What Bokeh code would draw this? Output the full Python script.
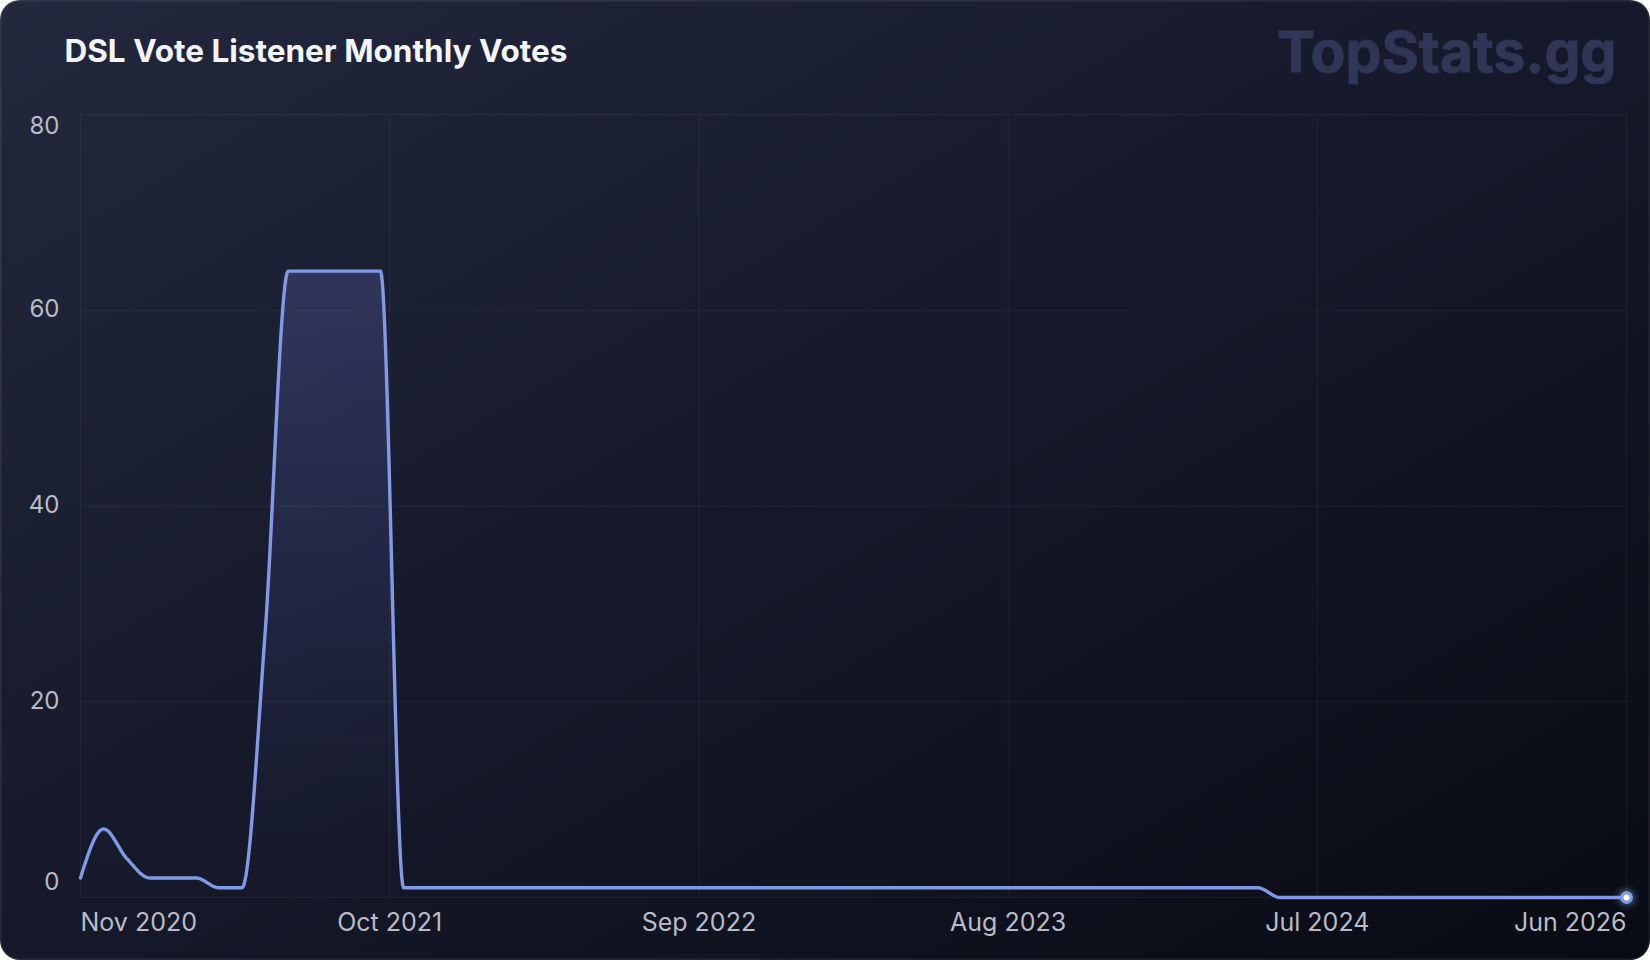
import numpy as np
from bokeh.plotting import figure
from bokeh.models import Range1d, Label
from bokeh.embed import file_html
from bokeh.resources import INLINE

# ---------------- data ----------------
MONTH_NAMES = ["Jan", "Feb", "Mar", "Apr", "May", "Jun", "Jul", "Aug", "Sep", "Oct", "Nov", "Dec"]
months = [f"{MONTH_NAMES[(10 + i) % 12]} {2020 + (10 + i) // 12}" for i in range(68)]  # Nov 2020 .. Jun 2026

votes = [2, 7, 4, 2, 2, 2, 1, 1, 27, 64,
         64, 64, 64, 64, 1, 1, 1, 1, 1, 1,
         1, 1, 1, 1, 1, 1, 1, 1, 1, 1,
         1, 1, 1, 1, 1, 1, 1, 1, 1, 1,
         1, 1, 1, 1, 1, 1, 1, 1, 1, 1,
         1, 1, 0, 0, 0, 0, 0, 0, 0, 0,
         0, 0, 0, 0, 0, 0, 0, 0]

x_tick_pos = [0, 13.4, 26.8, 40.2, 53.6, 67]
x_tick_labels = ["Nov 2020", "Oct 2021", "Sep 2022", "Aug 2023", "Jul 2024", "Jun 2026"]
y_ticks = [0, 20, 40, 60, 80]
y_tick_labels = ["0", "20", "40", "60", "80"]

TITLE = "DSL Vote Listener Monthly Votes"
WATERMARK = "TopStats.gg"

# ---------------- style / layout ----------------
LINE = "#8299e6"
TICK_COLOR = "#b9bcc8"
FONT = "Inter"

W, H = 1650, 960
X0_PX, X1_PX = 80, 1626      # pixel positions of first / last category
Y0_PX, Y80_PX = 897, 114     # pixel positions of value 0 / value 80 (from top)

n = len(votes)
idx = np.arange(n, dtype=float)
px_per_x = (X1_PX - X0_PX) / (n - 1)
px_per_y = (Y0_PX - Y80_PX) / 80.0
x_start = -X0_PX / px_per_x
x_end = (W - X0_PX) / px_per_x
y_start = -(H - Y0_PX) / px_per_y
y_end = Y0_PX / px_per_y


def monotone_curve(xv, yv, steps=24):
    """Monotone cubic (d3 monotoneX style) rendering of the line through the data points."""
    x = np.asarray(xv, float)
    y = np.asarray(yv, float)
    m_n = len(x)
    h = np.diff(x)
    s = np.diff(y) / h
    m = np.zeros(m_n)
    for i in range(1, m_n - 1):
        s0, s1 = s[i - 1], s[i]
        p = (s0 * h[i] + s1 * h[i - 1]) / (h[i - 1] + h[i])
        m[i] = (np.sign(s0) + np.sign(s1)) * min(abs(s0), abs(s1), 0.5 * abs(p))
    m[0] = (3 * s[0] - m[1]) / 2
    m[-1] = (3 * s[-1] - m[-2]) / 2
    t = np.linspace(0, 1, steps, endpoint=False)
    h00 = 2 * t**3 - 3 * t**2 + 1
    h10 = t**3 - 2 * t**2 + t
    h01 = -2 * t**3 + 3 * t**2
    h11 = t**3 - t**2
    xs, ys = [], []
    for i in range(m_n - 1):
        xs.append(x[i] + t * h[i])
        ys.append(h00 * y[i] + h10 * h[i] * m[i] + h01 * y[i + 1] + h11 * h[i] * m[i + 1])
    xs.append([x[-1]])
    ys.append([y[-1]])
    return np.concatenate(xs), np.concatenate(ys)


p = figure(width=W, height=H, output_backend="svg", toolbar_location=None, title=None,
           x_range=Range1d(x_start, x_end), y_range=Range1d(y_start, y_end),
           x_axis_location=None, y_axis_location=None,
           min_border_left=0, min_border_right=0, min_border_top=0, min_border_bottom=0)
p.background_fill_alpha = 0
p.border_fill_alpha = 0
p.outline_line_color = None
p.xgrid.grid_line_color = None
p.ygrid.grid_line_color = None
p.styles = {
    "background": "linear-gradient(to bottom right, #23283e 0%, #161a2b 45%, #090b14 100%)",
    "border-radius": "20px",
    "box-shadow": "inset 0 0 0 1.5px rgba(255,255,255,0.08)",
}

# grid lines
last_x = idx[-1]
p.segment(x0=[0] * len(y_ticks), x1=[last_x] * len(y_ticks), y0=y_ticks, y1=y_ticks,
          line_color="#ffffff", line_alpha=0.055, line_width=1)
p.segment(x0=x_tick_pos, x1=x_tick_pos, y0=[0] * len(x_tick_pos), y1=[80] * len(x_tick_pos),
          line_color="#ffffff", line_alpha=0.055, line_width=1)

# smoothed line + gradient-like area
cx, cy = monotone_curve(idx, votes)
top = max(votes)
N_BANDS = 20
band_alpha = 1 - (1 - 0.22) ** (1.0 / N_BANDS)
for k in range(N_BANDS):
    level = top * k / N_BANDS
    p.varea(x=cx, y1=np.minimum(cy, level), y2=cy, fill_color="#8a9ad8", fill_alpha=band_alpha)

p.line(cx, cy, line_color=LINE, line_width=3.4, line_join="round", line_cap="round")

# last point marker
lx, ly = [idx[-1]], [votes[-1]]
p.scatter(lx, ly, size=26, fill_color=LINE, fill_alpha=0.08, line_color=None)
p.scatter(lx, ly, size=19, fill_color=LINE, fill_alpha=0.18, line_color=None)
p.scatter(lx, ly, size=13, fill_color=LINE, line_color=None)
p.scatter(lx, ly, size=6, fill_color="#ffffff", line_color=None)

# x tick labels
for i, (pos, lab) in enumerate(zip(x_tick_pos, x_tick_labels)):
    align = "left" if i == 0 else ("right" if i == len(x_tick_pos) - 1 else "center")
    p.add_layout(Label(x=pos, y=0, text=lab, text_align=align, text_baseline="middle",
                       y_offset=-24, text_font=FONT, text_font_size="25px",
                       text_color=TICK_COLOR))

# y tick labels
for v, lab in zip(y_ticks, y_tick_labels):
    off = 17 if v == y_ticks[0] else (-10 if v == y_ticks[-1] else 2)
    p.add_layout(Label(x=0, y=v, text=lab, text_align="right", text_baseline="middle",
                       x_offset=-21, y_offset=off, text_font=FONT, text_font_size="24px",
                       text_color=TICK_COLOR))

# title and watermark
p.add_layout(Label(x=0, y=80, text=TITLE, text_align="left", text_baseline="middle",
                   x_offset=-16, y_offset=64, text_font=FONT, text_font_style="bold",
                   text_font_size="31.5px", text_color="#f3f4f8"))
p.add_layout(Label(x=last_x, y=80, text=WATERMARK, text_align="right", text_baseline="middle",
                   x_offset=-10, y_offset=63, text_font=FONT, text_font_style="bold",
                   text_font_size="57px", text_color="#2f3656",
                   text_outline_color="#2f3656"))

open("out.html", "w").write(file_html(p, INLINE))
